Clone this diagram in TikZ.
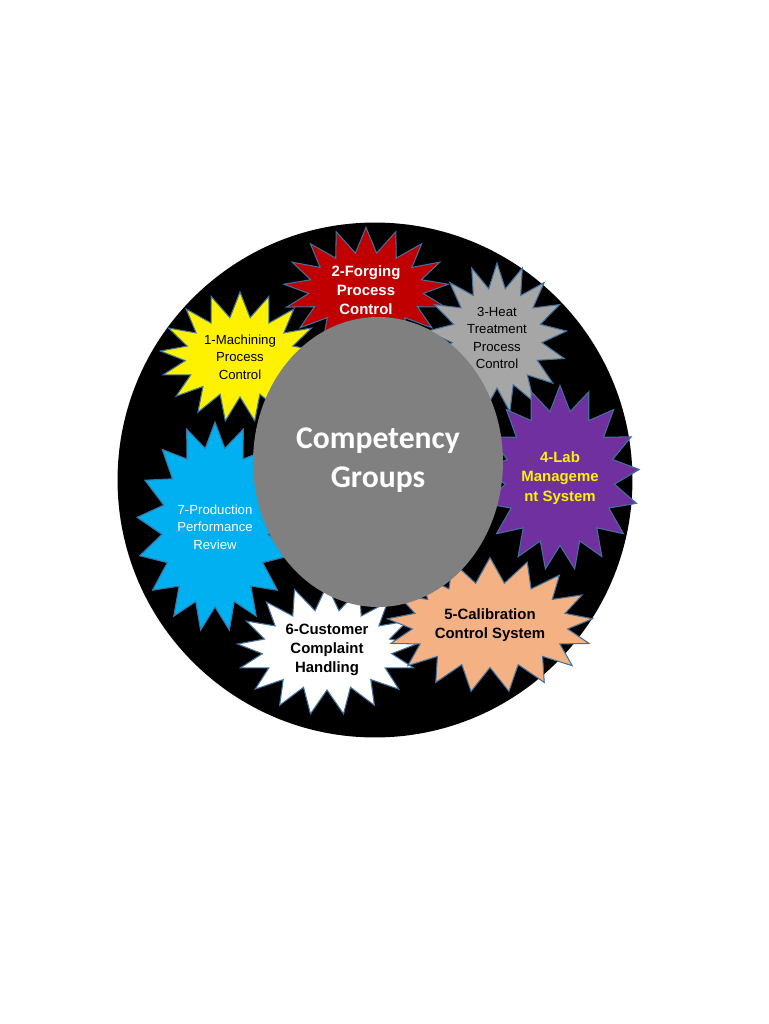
\documentclass[tikz,border=0pt]{standalone}
\usepackage{fontspec}
\setmainfont{Liberation Sans}
\newfontfamily\calib{Carlito}
\usetikzlibrary{shapes.symbols,shapes.geometric}
\definecolor{sred}{HTML}{C00000}
\definecolor{sgray}{HTML}{A6A6A6}
\definecolor{spurple}{HTML}{7030A0}
\definecolor{speach}{HTML}{F4B183}
\definecolor{sblue}{HTML}{00B0F0}
\definecolor{sedge}{HTML}{41719C}
\tikzset{burst/.style={starburst, starburst points=17, random starburst=0, starburst point height=0.5cm, draw=sedge, line width=0.6pt, inner sep=0pt, align=center, font=\bfseries\fontsize{7.5}{10}\selectfont}}
\begin{document}
\begin{tikzpicture}[x=0.02cm,y=-0.02cm]
\useasboundingbox[fill=white] (0,0) rectangle (768,1024);
\node[circle, fill=black, minimum size=10.3cm, inner sep=0] (ring) at (375,480) {};
\node[burst, fill=sred, text=white, minimum width=3.3cm, minimum height=2.5cm, font=\bfseries\fontsize{8.5}{11}\selectfont] (s2) at (366,290) {2-Forging\\Process\\Control};
\node[burst, fill=sgray, text=black, minimum width=2.8cm, minimum height=3.0cm, font=\fontsize{7.5}{10}\selectfont] (s3) at (497,338) {3-Heat\\Treatment\\Process\\Control};
\node[burst, fill=yellow, text=black, minimum width=3.2cm, minimum height=2.6cm, font=\fontsize{7.5}{10}\selectfont] (s1) at (240,357) {1-Machining\\Process\\Control};
\node[burst, fill=spurple, text=yellow, minimum width=2.7cm, minimum height=3.7cm, font=\bfseries\fontsize{8.5}{11}\selectfont] (s4) at (560,478) {4-Lab\\Manageme\\nt System};
\node[burst, fill=white, text=black, minimum width=3.6cm, minimum height=2.6cm, font=\bfseries\fontsize{8.5}{11}\selectfont] (s6) at (327,650) {6-Customer\\Complaint\\Handling};
\node[burst, fill=speach, text=black, minimum width=3.6cm, minimum height=2.7cm, font=\bfseries\fontsize{8.5}{11}\selectfont] (s5) at (490,625) {5-Calibration\\Control System};
\node[burst, fill=sblue, text=white, minimum width=2.8cm, minimum height=4.2cm, font=\fontsize{7.5}{10}\selectfont] (s7) at (215,527) {7-Production\\Performance\\Review};
\node[ellipse, fill=gray, minimum width=5.0cm, minimum height=5.8cm, inner sep=0] (c) at (378,462) {};
\node[text=white, align=center, font=\calib\bfseries\fontsize{18}{22}\selectfont] (ct) at (378,460) {Competency\\Groups};
\end{tikzpicture}
\end{document}
